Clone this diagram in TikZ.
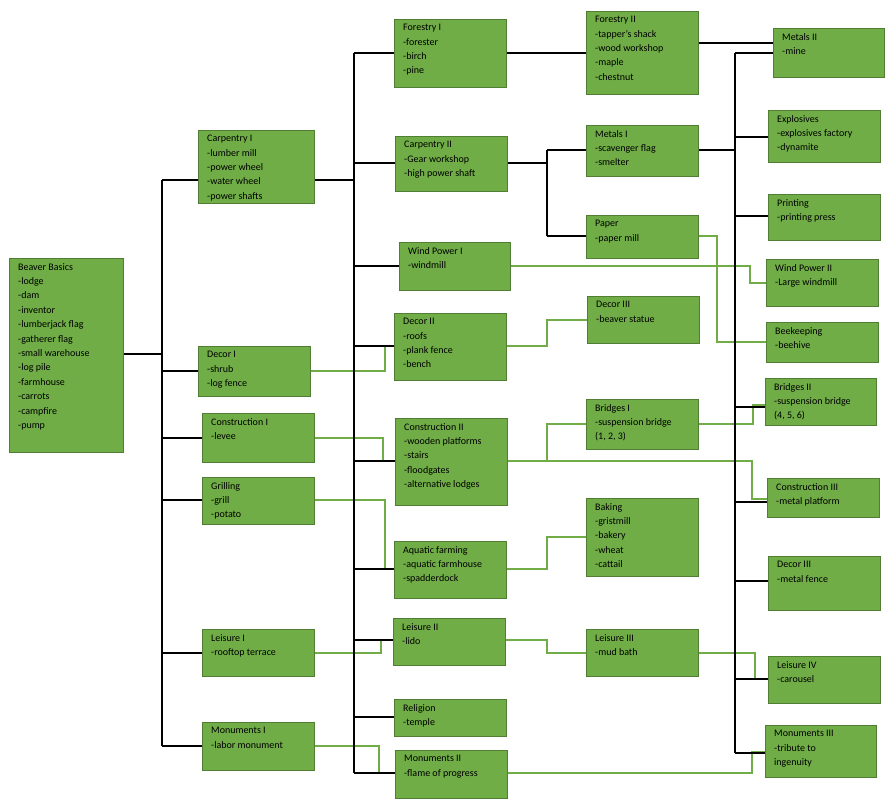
\documentclass[tikz,border=0pt]{standalone}
\usepackage{fontspec}
\setmainfont{Carlito}
\definecolor{gfill}{HTML}{70AD47}
\definecolor{gedge}{HTML}{507E32}
\pgfdeclarelayer{bg}\pgfsetlayers{bg,main}
\begin{document}
\begin{tikzpicture}[x=1pt,y=-1pt,
  bl/.style={black,line width=2.6pt},
  gl/.style={gfill,line width=2.2pt},
  boxst/.style={draw=gedge,fill=gfill,line width=1pt,inner sep=0pt},
  txt/.style={anchor=north west,align=left,inner sep=0pt,font=\fontsize{10}{14.4}\selectfont}]
\useasboundingbox (0,0) rectangle (895,806);
\newcommand\bx[6]{\node[boxst,anchor=north west,minimum width=#4-#2,minimum height=#5-#3] (#1) at (#2,#3) {};
  \node[txt] (#1t) at (#2+9,#3+5) {#6};}
\bx{bb}{9}{258}{123}{452}{Beaver Basics\\-lodge\\-dam\\-inventor\\-lumberjack flag\\-gatherer flag\\-small warehouse\\-log pile\\-farmhouse\\-carrots\\-campfire\\-pump}
\bx{cp1}{198}{130}{314}{203}{Carpentry I\\-lumber mill\\-power wheel\\-water wheel\\-power shafts}
\bx{de1}{198}{346}{310}{396}{Decor I\\-shrub\\-log fence}
\bx{co1}{202}{413}{314}{462}{Construction I\\-levee}
\bx{gr}{202}{477}{314}{524}{Grilling\\-grill\\-potato}
\bx{le1}{202}{629}{314}{676}{Leisure I\\-rooftop terrace}
\bx{mo1}{202}{722}{314}{770}{Monuments I\\-labor monument}
\bx{fo1}{394}{19}{506}{87}{Forestry I\\-forester\\-birch\\-pine}
\bx{cp2}{395}{136}{507}{191}{Carpentry II\\-Gear workshop\\-high power shaft}
\bx{wp1}{399}{242}{510}{290}{Wind Power I\\-windmill}
\bx{de2}{394}{313}{506}{380}{Decor II\\-roofs\\-plank fence\\-bench}
\bx{co2}{395}{418}{507}{505}{Construction II\\-wooden platforms\\-stairs\\-floodgates\\-alternative lodges}
\bx{aq}{394}{541}{506}{598}{Aquatic farming\\-aquatic farmhouse\\-spadderdock}
\bx{le2}{393}{618}{505}{665}{Leisure II\\-lido}
\bx{re}{394}{699}{506}{736}{Religion\\-temple}
\bx{mo2}{395}{750}{507}{798}{Monuments II\\-flame of progress}
\bx{fo2}{586}{11}{698}{94}{Forestry II\\-tapper's shack\\-wood workshop\\-maple\\-chestnut}
\bx{me1}{586}{125}{698}{176}{Metals I\\-scavenger flag\\-smelter}
\bx{pa}{586}{215}{698}{258}{Paper\\-paper mill}
\bx{de3}{587}{296}{699}{343}{Decor III\\-beaver statue}
\bx{br1}{586}{399}{698}{449}{Bridges I\\-suspension bridge\\(1, 2, 3)}
\bx{ba}{586}{498}{698}{576}{Baking\\-gristmill\\-bakery\\-wheat\\-cattail}
\bx{le3}{586}{629}{698}{676}{Leisure III\\-mud bath}
\bx{me2}{773}{28}{884}{77}{Metals II\\-mine}
\bx{ex}{768}{110}{880}{162}{Explosives\\-explosives factory\\-dynamite}
\bx{pr}{768}{194}{880}{240}{Printing\\-printing press}
\bx{wp2}{766}{259}{878}{306}{Wind Power II\\-Large windmill}
\bx{bk}{766}{322}{878}{362}{Beekeeping\\-beehive}
\bx{br2}{765}{378}{876}{425}{Bridges II\\-suspension bridge\\(4, 5, 6)}
\bx{co3}{767}{478}{879}{517}{Construction III\\-metal platform}
\bx{de4}{768}{556}{880}{610}{Decor III\\-metal fence}
\bx{le4}{768}{656}{880}{703}{Leisure IV\\-carousel}
\bx{mo3}{765}{725}{876}{777}{Monuments III\\-tribute to\\ingenuity}
\begin{pgfonlayer}{bg}
% green
\draw[gl] (de1.east|-0,371) -- (385,371) -- (385,346) -- (de2.west|-0,346);
\draw[gl] (de2.east|-0,346) -- (547,346) -- (547,320) -- (de3.west|-0,320);
\draw[gl] (co1.east|-0,438) -- (383,438) -- (383,461) -- (co2.west|-0,461);
\draw[gl] (co2.east|-0,461) -- (547,461) -- (547,424) -- (br1.west|-0,424);
\draw[gl] (co2.east|-0,461) -- (752,461) -- (752,499) -- (co3.west|-0,499);
\draw[gl] (gr.east|-0,500) -- (385,500) -- (385,569) -- (aq.west|-0,569);
\draw[gl] (aq.east|-0,569) -- (547,569) -- (547,537) -- (ba.west|-0,537);
\draw[gl] (le1.east|-0,653) -- (381,653) -- (381,640) -- (le2.west|-0,640);
\draw[gl] (le2.east|-0,640) -- (547,640) -- (547,653) -- (le3.west|-0,653);
\draw[gl] (le3.east|-0,653) -- (755,653) -- (755,679) -- (le4.west|-0,679);
\draw[gl] (mo1.east|-0,746) -- (379,746) -- (379,773) -- (mo2.west|-0,773);
\draw[gl] (mo2.east|-0,773) -- (752,773) -- (752,752) -- (mo3.west|-0,752);
\draw[gl] (br1.east|-0,424) -- (753,424) -- (753,405) -- (br2.west|-0,405);
\draw[gl] (wp1.east|-0,266) -- (750,266) -- (750,283) -- (wp2.west|-0,283);
\draw[gl] (pa.east|-0,236) -- (717,236) -- (717,342) -- (bk.west|-0,342);
% black
\draw[bl] (bb.east|-0,354) -- (162,354);
\draw[bl] (162,180) -- (162,746);
\foreach \n/\y in {cp1/180,de1/371,co1/438,gr/500,le1/653,mo1/746}
  \draw[bl] (162,\y) -- (\n.west|-0,\y);
\draw[bl] (cp1.east|-0,180) -- (354,180);
\draw[bl] (354,53) -- (354,773);
\foreach \n/\y in {fo1/53,cp2/163,wp1/266,de2/346,co2/461,aq/569,le2/640,re/717,mo2/773}
  \draw[bl] (354,\y) -- (\n.west|-0,\y);
\draw[bl] (fo1.east|-0,53) -- (fo2.west|-0,53);
\draw[bl] (cp2.east|-0,163) -- (547,163);
\draw[bl] (547,150) -- (547,236);
\draw[bl] (547,150) -- (me1.west|-0,150);
\draw[bl] (547,236) -- (pa.west|-0,236);
\draw[bl] (fo2.east|-0,43) -- (me2.west|-0,43);
\draw[bl] (me1.east|-0,150) -- (735,150);
\draw[bl] (735,53) -- (735,753);
\foreach \n/\y in {me2/53,ex/137,pr/216,br2/407,co3/502,de4/581,le4/679,mo3/753}
  \draw[bl] (735,\y) -- (\n.west|-0,\y);
\end{pgfonlayer}
\end{tikzpicture}
\end{document}
